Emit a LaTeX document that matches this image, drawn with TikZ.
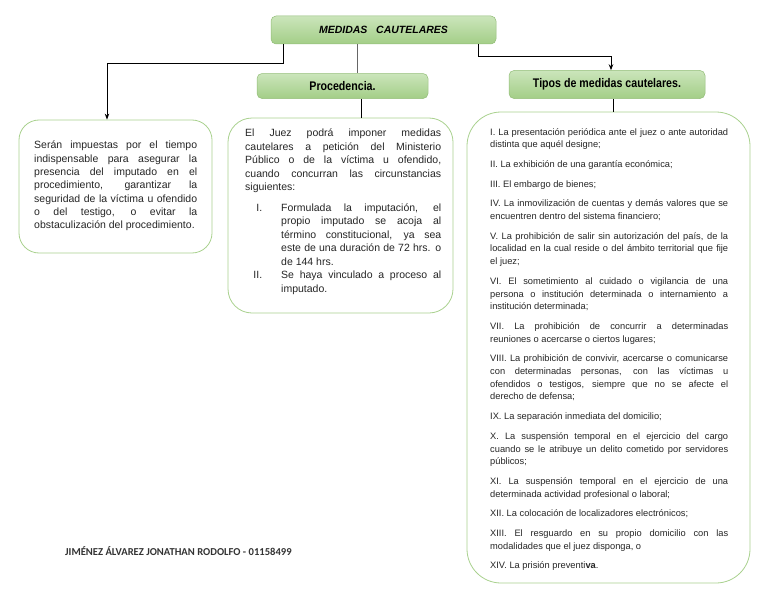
\documentclass[tikz,border=0pt]{standalone}
\usepackage{fontspec}
\setmainfont{Liberation Sans}
\newfontfamily\footfont{Carlito}
\usetikzlibrary{arrows.meta}
\definecolor{gtop}{HTML}{CBE5BB}
\definecolor{gbot}{HTML}{A3CE87}
\definecolor{gedge}{HTML}{93BD78}
\definecolor{bedge}{HTML}{A9D18E}
\definecolor{txt}{HTML}{262626}
\begin{document}
\begin{tikzpicture}[x=1pt,y=-1pt,
  hdr/.style={draw=gedge, line width=0.5pt, rounded corners=5pt, top color=gtop, bottom color=gbot, inner sep=0pt, text=black},
  card/.style={draw=bedge, line width=0.8pt, fill=white, inner sep=0pt},
  body/.style={anchor=north west, inner sep=0pt, align=justify, text=txt},
  conn/.style={line width=0.9pt, black},
  arr/.style={conn, -{Stealth[length=6pt,width=4.5pt]}},
  thinline/.style={line width=0.5pt, black!60}
]
\useasboundingbox (0,0) rectangle (768,594);

% header boxes
\node[hdr, minimum width=225pt, minimum height=28pt] (title) at (383.5,30)
  {\fontsize{10.5}{12}\selectfont\bfseries\itshape MEDIDAS\ \ \ CAUTELARES};
\node[hdr, minimum width=171pt, minimum height=25pt] (proc) at (342.5,86)
  {\scalebox{0.85}[1]{\fontsize{12.5}{14}\selectfont\bfseries Procedencia.}};
\node[hdr, minimum width=196pt, minimum height=28pt] (tipos) at (607,84.5)
  {\scalebox{0.85}[1]{\fontsize{12.5}{14}\selectfont\bfseries Tipos de medidas cautelares.}};

% cards
\node[card, rounded corners=20pt, minimum width=193pt, minimum height=133pt] (leftcard) at (115.5,186.5) {};
\node[card, rounded corners=24pt, minimum width=225pt, minimum height=195pt] (midcard) at (340.5,215.5) {};
\node[card, rounded corners=34pt, minimum width=283pt, minimum height=471pt] (rightcard) at (608.5,347.5) {};

% texts
\node[body, text width=163pt, font=\fontsize{10.5}{13.3}\selectfont] (lefttext) at (34,141)
{Serán impuestas por el tiempo\linebreak
indispensable para asegurar la\linebreak
presencia del imputado en el\linebreak
procedimiento, garantizar la\linebreak
seguridad de la víctima u ofendido\linebreak
o del testigo, o evitar la\linebreak
obstaculización del procedimiento.\par};

\node[body, text width=196pt, font=\fontsize{10.5}{13.5}\selectfont] (midtext) at (245,129)
{El Juez podrá imponer medidas\linebreak
cautelares a petición del Ministerio\linebreak
Público o de la víctima u ofendido,\linebreak
cuando concurran las circunstancias\linebreak
siguientes:\par\vspace{7pt}
\hangindent=36pt\hangafter=1\noindent\makebox[36pt][l]{\makebox[17pt][r]{I.}}Formulada la imputación, el\linebreak
propio imputado se acoja al\linebreak
término constitucional, ya sea\linebreak
este de una duración de 72 hrs. o\linebreak
de 144 hrs.\par
\hangindent=36pt\hangafter=1\noindent\makebox[36pt][l]{\makebox[17pt][r]{II.}}Se haya vinculado a proceso al\linebreak
imputado.\par};

\node[body, text width=238pt, font=\fontsize{9.3}{12.7}\selectfont] (righttext) at (490,128)
{\setlength{\parskip}{7pt}%
I. La presentación periódica ante el juez o ante autoridad\linebreak
distinta que aquél designe;\par
II. La exhibición de una garantía económica;\par
III. El embargo de bienes;\par
IV. La inmovilización de cuentas y demás valores que se\linebreak
encuentren dentro del sistema financiero;\par
V. La prohibición de salir sin autorización del país, de la\linebreak
localidad en la cual reside o del ámbito territorial que fije\linebreak
el juez;\par
VI. El sometimiento al cuidado o vigilancia de una\linebreak
persona o institución determinada o internamiento a\linebreak
institución determinada;\par
VII. La prohibición de concurrir a determinadas\linebreak
reuniones o acercarse o ciertos lugares;\par
VIII. La prohibición de convivir, acercarse o comunicarse\linebreak
con determinadas personas, con las víctimas u\linebreak
ofendidos o testigos, siempre que no se afecte el\linebreak
derecho de defensa;\par
IX. La separación inmediata del domicilio;\par
X. La suspensión temporal en el ejercicio del cargo\linebreak
cuando se le atribuye un delito cometido por servidores\linebreak
públicos;\par
XI. La suspensión temporal en el ejercicio de una\linebreak
determinada actividad profesional o laboral;\par
XII. La colocación de localizadores electrónicos;\par
XIII. El resguardo en su propio domicilio con las\linebreak
modalidades que el juez disponga, o\par
XIV. La prisión preventi\textbf{va}.\par};

\node[anchor=west, inner sep=0pt, text=black!80] (author) at (65,551)
  {\footfont\fontsize{10.6}{12}\selectfont\bfseries JIMÉNEZ ÁLVAREZ JONATHAN RODOLFO - 01158499};

% connectors
\coordinate (tl) at ([xshift=-100.5]title.south);
\coordinate (tm) at ([xshift=-26.5]title.south);
\coordinate (tr) at ([xshift=94.5]title.south);
\coordinate (ps) at ([xshift=18.5]proc.south);
\coordinate (ts) at ([xshift=6]tipos.south);
\coordinate (la) at ([xshift=-8.5]leftcard.north);
\coordinate (ta) at ([xshift=4]tipos.north);

\draw[arr] (tl) -- ++(0,19) -| (la);
\draw[arr] (tr) -- ++(0,12) -| (ta);
\draw[thinline] (tm) -- (tm |- proc.north);
\draw[conn] (ps) -- (ps |- midcard.north);
\draw[conn] (ts) -- (ts |- rightcard.north);
\end{tikzpicture}
\end{document}
